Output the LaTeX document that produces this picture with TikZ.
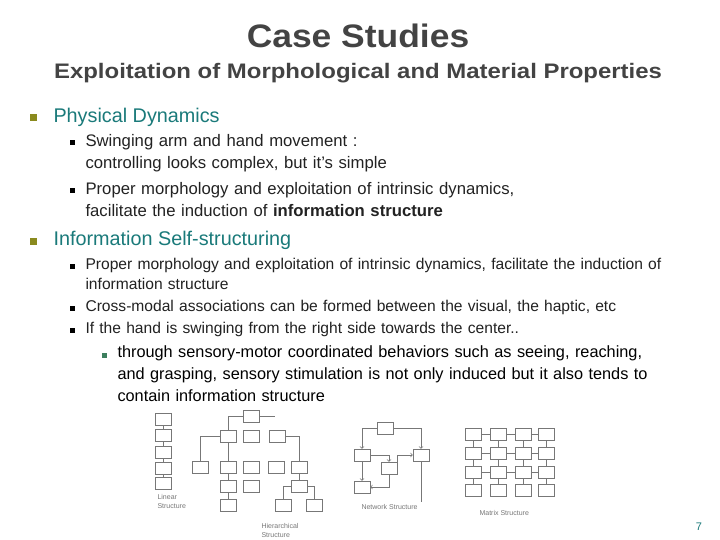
\documentclass[tikz,border=0pt]{standalone}
\usepackage{fontspec}
\setmainfont{Liberation Sans}
\definecolor{teal1}{HTML}{1A7A7A}
\definecolor{olive1}{HTML}{8A8A1E}
\definecolor{txt}{HTML}{222222}
\definecolor{gl}{HTML}{777777}
\begin{document}
\begin{tikzpicture}[x=1pt,y=-1pt,
 fs/.style={font=\fontsize{#1}{9}\selectfont},
 t1/.style={anchor=west,text=teal1,font=\fontsize{19.8}{24}\selectfont},
 t2/.style={text=txt,font=\fontsize{16.7}{21.5}\selectfont,align=left,text width=560pt},
 t2s/.style={anchor=west,text=txt,font=\fontsize{15.6}{19.5}\selectfont,align=left,text width=620pt},
 t3/.style={anchor=north west,text=black,font=\fontsize{16.3}{22}\selectfont,align=left,text width=600pt},
 b1/.style={fill=olive1,minimum size=7pt,inner sep=0pt},
 b2/.style={fill=black,minimum size=5pt,inner sep=0pt},
 bx/.style={draw=gl,minimum width=16pt,minimum height=12pt,inner sep=0pt},
 ln/.style={draw=gl,line width=0.7pt},
 lb/.style={text=gl,fs=7,align=left,anchor=north west}]
\useasboundingbox (0,0) rectangle (720,540);
\fill[white] (0,0) rectangle (720,540);
\node[text=txt!85!white,font=\fontsize{32.5}{36}\selectfont\bfseries] (title) at (358,36) {\scalebox{1.09}[1]{Case Studies}};
\node[text=txt!85!white,font=\fontsize{21}{24}\selectfont\bfseries] (sub) at (358,73) {\scalebox{1.14}[1]{Exploitation of Morphological and Material Properties}};
\node[b1] (bu1) at (33,118) {};
\node[t1] (pd) at (50,117) {Physical Dynamics};
\node[b2] (bu11) at (72,143) {};
\node[t2,anchor=north west] (s1) at (82,131) {Swinging arm and hand movement :\\ controlling looks complex, but it’s simple};
\node[b2] (bu12) at (72,191) {};
\node[t2,anchor=north west] (s2) at (82,179) {Proper morphology and exploitation of intrinsic dynamics,\\ facilitate the induction of \textbf{information structure}};
\node[b1] (bu2) at (33,241) {};
\node[t1] (is) at (50,240) {Information Self-structuring};
\node[b2] (bu21) at (72,266) {};
\node[t2s,anchor=north west] (s3) at (82,255) {Proper morphology and exploitation of intrinsic dynamics, facilitate the induction of\\ information structure};
\node[b2] (bu22) at (72,308) {};
\node[t2s] (s4) at (82,307) {Cross-modal associations can be formed between the visual, the haptic, etc};
\node[b2] (bu23) at (72,330) {};
\node[t2s] (s5) at (82,329) {If the hand is swinging from the right side towards the center..};
\node[fill=teal1!70!olive1,minimum size=5pt,inner sep=0pt] (bu3) at (104,355) {};
\node[t3] (s6) at (114,342) {through sensory-motor coordinated behaviors such as seeing, reaching,\\ and grasping, sensory stimulation is not only induced but it also tends to\\ contain information structure};
% linear
\foreach \i/\y in {1/419,2/435,3/452,4/468,5/483}{\node[bx] (L\i) at (163,\y) {};}
\draw[ln] (L1)--(L2) (L2)--(L3) (L3)--(L4) (L4)--(L5);
\node[lb] (ll) at (154,491) {Linear\\Structure};
% hierarchical
\node[bx] (H0) at (251,416) {};
\foreach \n/\x in {a/228,b/251,c/277}{\node[bx] (H1\n) at (\x,436) {};}
\foreach \n/\x in {a/200,b/228,c/251,d/276,e/299}{\node[bx] (H2\n) at (\x,467) {};}
\foreach \n/\x in {a/228,b/251,c/299}{\node[bx] (H3\n) at (\x,486) {};}
\foreach \n/\x in {a/228,b/283,c/314}{\node[bx] (H4\n) at (\x,505) {};}
\coordinate (hr) at (275,416);
\draw[ln] (H0.west) -| (H1a.north) (H0.east) -- (hr);
\draw[ln] (H1a.west) -| (H2a.north) (H1a)--(H2b) (H2b)--(H3a) (H3a)--(H4a);
\draw[ln] (H1c.east) -| (H2e.north) (H2e)--(H3c);
\draw[ln] (H3c.west) -| (H4b.north) (H3c.east) -| (H4c.north);
\node[lb] (hl) at (258,520) {Hierarchical\\Structure};
% network
\node[bx] (N0) at (385,428) {};
\node[bx] (NA) at (362,455) {};
\node[bx] (NB) at (389,468) {};
\node[bx] (NC) at (421,455) {};
\node[bx] (ND) at (362,487) {};
\coordinate (nc) at (421,502);
\draw[ln,->] (N0.west) -| (NA.north);
\draw[ln,->] (N0.east) -| (NC.north);
\draw[ln,->] (NA.east) -| (NB.north);
\draw[ln,->] (NB.north east) |- (NC.west);
\draw[ln,->] (NA)--(ND);
\draw[ln,->] (NB.south) |- (ND.east);
\draw[ln] (NC.south)--(nc);
\node[lb] (nl) at (358,501) {Network Structure};
% matrix
\foreach \c/\x in {1/473,2/498,3/523,4/546}{
 \foreach \r/\y in {1/434,2/453,3/472,4/490}{\node[bx] (M\c\r) at (\x,\y) {};}}
\foreach \c in {1,2,3,4}{\draw[ln] (M\c1)--(M\c2)--(M\c3)--(M\c4);}
\foreach \r in {1,2,3}{\draw[ln] (M1\r)--(M2\r)--(M3\r)--(M4\r);}
\node[lb] (ml) at (476,507) {Matrix Structure};
\node[text=teal1,fs=11] (pg) at (699,527) {7};
\end{tikzpicture}
\end{document}
